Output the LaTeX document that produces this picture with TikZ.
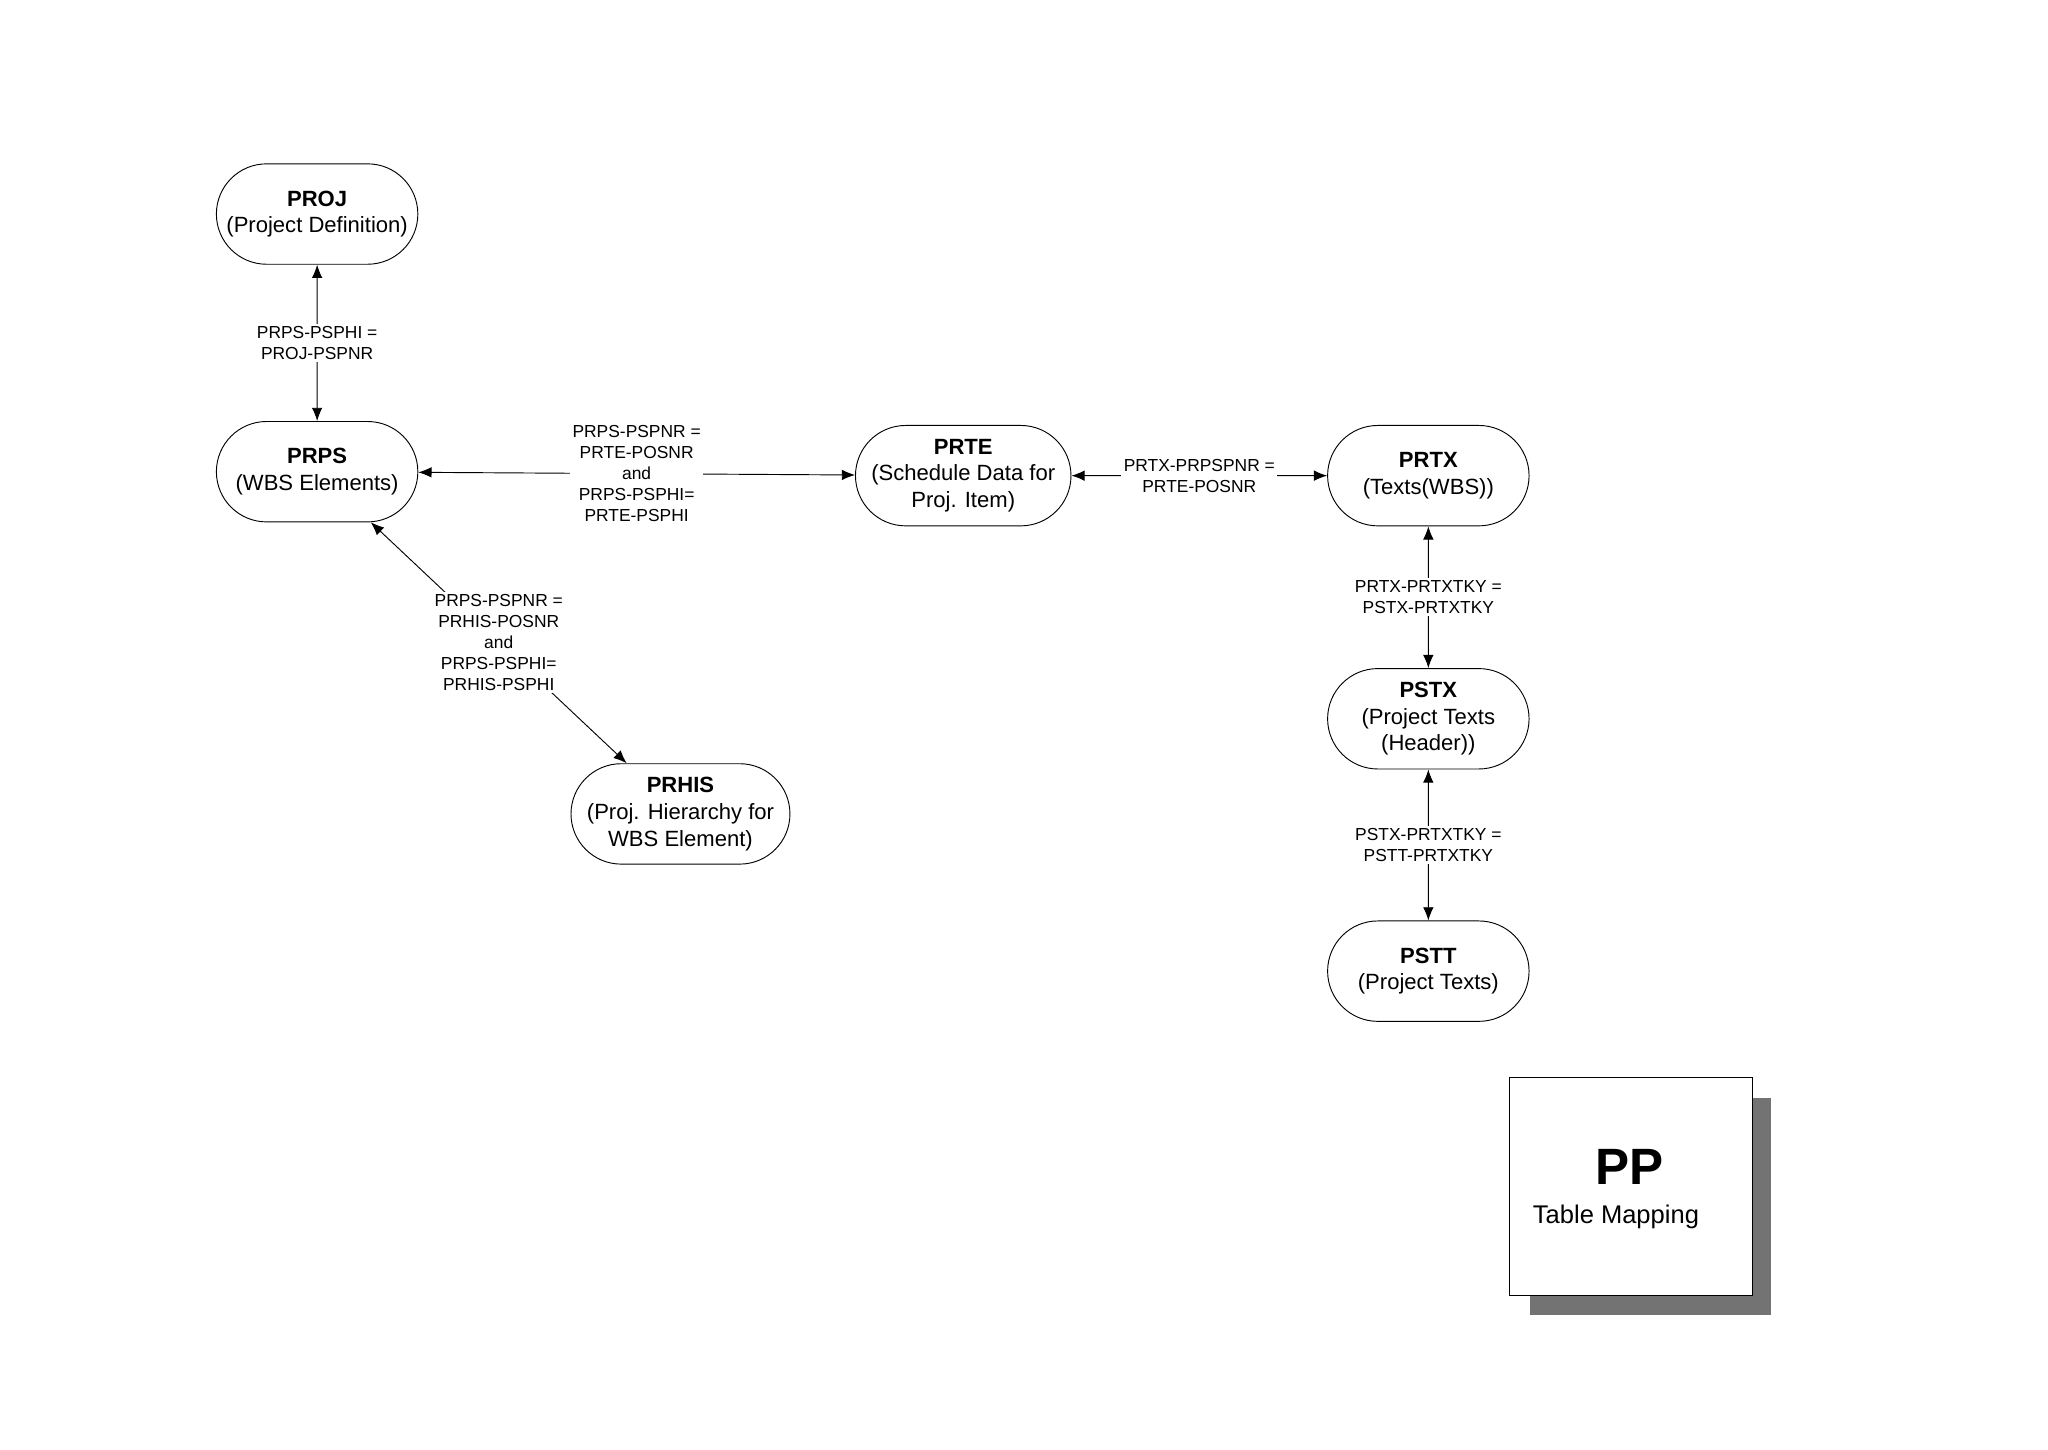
\documentclass[tikz,border=0pt]{standalone}
\usepackage{fontspec}
\setmainfont{Liberation Sans}
\usetikzlibrary{positioning,arrows.meta,shapes.misc}
\tikzset{
    table/.style={%
        draw, rounded rectangle,
        minimum width=3.05cm,
        minimum height=1.52cm,
        inner sep=0pt,
        align=center,
        font=\fontsize{9.5}{11.5}\selectfont
    },
    link/.style={draw, {Latex[length=2mm,width=1.6mm]}-{Latex[length=2mm,width=1.6mm]}},
    cond/.style={fill=white, align=center, inner sep=1pt, font=\fontsize{7.5}{9}\selectfont},
    >=Latex
}
\begin{document}
\begin{tikzpicture}[x=0.02cm, y=-0.02cm]
                \useasboundingbox (0,0) rectangle (1550,1097);
                \node[table] (proj) at (240,162) {\textbf{PROJ}\\(Project Definition)};
                \node[table] (prps) at (240,357) {\textbf{PRPS}\\(WBS Elements)};
                \node[table] (prte) at (729,360) {\textbf{PRTE}\\(Schedule Data for\\Proj. Item)};
                \node[table] (prtx) at (1081,360) {\textbf{PRTX}\\(Texts(WBS))};
                \node[table] (pstx) at (1081,544) {\textbf{PSTX}\\(Project Texts\\(Header))};
                \node[table] (pstt) at (1081,735) {\textbf{PSTT}\\(Project Texts)};
                \node[table] (prhis) at (515,616) {\textbf{PRHIS}\\(Proj. Hierarchy for\\WBS Element)};

                \path[link] (proj) -- node[cond] {PRPS-PSPHI =\\PROJ-PSPNR} (prps);
                \path[link] (prps) -- node[cond] {PRPS-PSPNR =\\PRTE-POSNR\\and\\PRPS-PSPHI=\\PRTE-PSPHI} (prte);
                \path[link] (prte) -- node[cond] {PRTX-PRPSPNR =\\PRTE-POSNR} (prtx);
                \path[link] (prtx) -- node[cond] {PRTX-PRTXTKY =\\PSTX-PRTXTKY} (pstx);
                \path[link] (pstx) -- node[cond] {PSTX-PRTXTKY =\\PSTT-PRTXTKY} (pstt);
                \path[link] (prps) -- node[cond] {PRPS-PSPNR =\\PRHIS-POSNR\\and\\PRPS-PSPHI=\\PRHIS-PSPHI} (prhis);

                % title box
                \fill[black!55] (1158,831) rectangle (1340,995);
                \node[draw, fill=white, minimum width=3.68cm, minimum height=3.3cm, anchor=north west] (pp) at (1142,815) {};
                \node[font=\bfseries\fontsize{22}{24}\selectfont] (ppname) at (1233,883) {PP};
                \node[font=\fontsize{11}{13}\selectfont] (pplabel) at (1223,921) {Table Mapping};
            \end{tikzpicture}
\end{document}
